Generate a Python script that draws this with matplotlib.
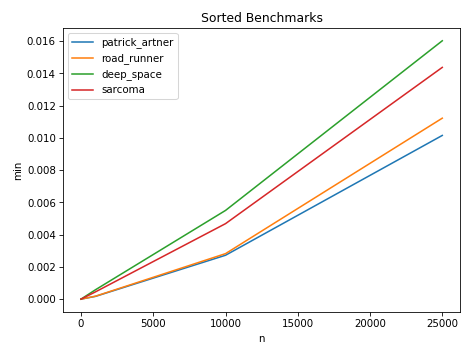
import matplotlib
matplotlib.use("Agg")
import matplotlib.pyplot as plt

n = [0, 1000, 10000, 25000]
patrick_artner = [0.0, 0.00017, 0.00272, 0.01015]
road_runner = [0.0, 0.00018, 0.00282, 0.01122]
deep_space = [0.0, 0.00058, 0.0055, 0.01602]
sarcoma = [0.0, 0.00045, 0.00468, 0.01437]

fig, ax = plt.subplots(figsize=(6.4, 4.8), dpi=74)
ax.plot(n, patrick_artner, label="patrick_artner")
ax.plot(n, road_runner, label="road_runner")
ax.plot(n, deep_space, label="deep_space")
ax.plot(n, sarcoma, label="sarcoma")
ax.set_xlabel("n")
ax.set_ylabel("min")
ax.set_title("Sorted Benchmarks")
ax.legend(loc="upper left")
fig.subplots_adjust(left=0.133, right=0.972, bottom=0.121, top=0.921)
fig.savefig("out.png")
